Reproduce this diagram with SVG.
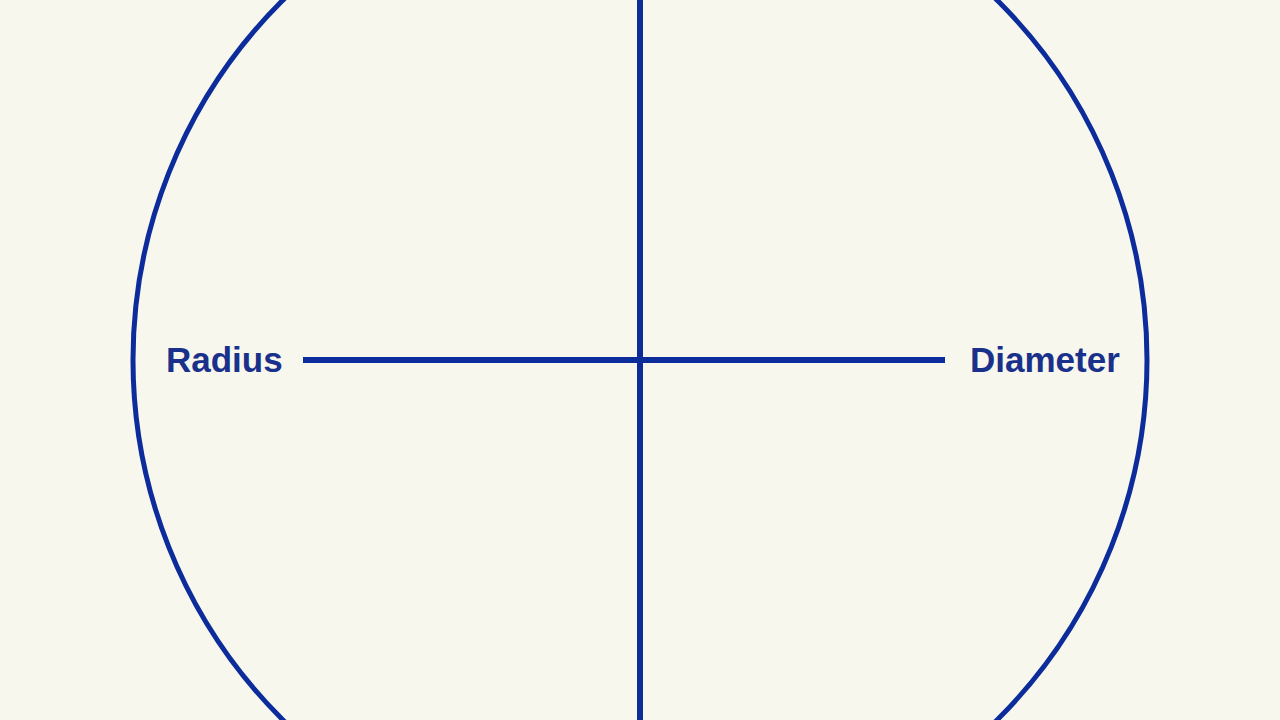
<svg xmlns="http://www.w3.org/2000/svg" width="1280" height="720" viewBox="0 0 1280 720">
<style>
.ln{stroke:#0d2c9c;fill:none;stroke-width:6}
.lb{font-family:"Liberation Sans",Arial,sans-serif;font-weight:bold;font-size:35px;fill:#1a318c}
</style>
<rect width="1280" height="720" fill="#f8f7ed"/>
<g id="circle"><circle cx="640" cy="360" r="507" class="ln" style="stroke-width:5"/></g>
<g id="connectors">
<line x1="640" y1="0" x2="640" y2="720" class="ln"/>
<line x1="303" y1="360" x2="945" y2="360" class="ln"/>
</g>
<g id="radius"><text x="166" y="372" class="lb">Radius</text></g>
<g id="diameter"><text x="970" y="372" class="lb">Diameter</text></g>
</svg>
